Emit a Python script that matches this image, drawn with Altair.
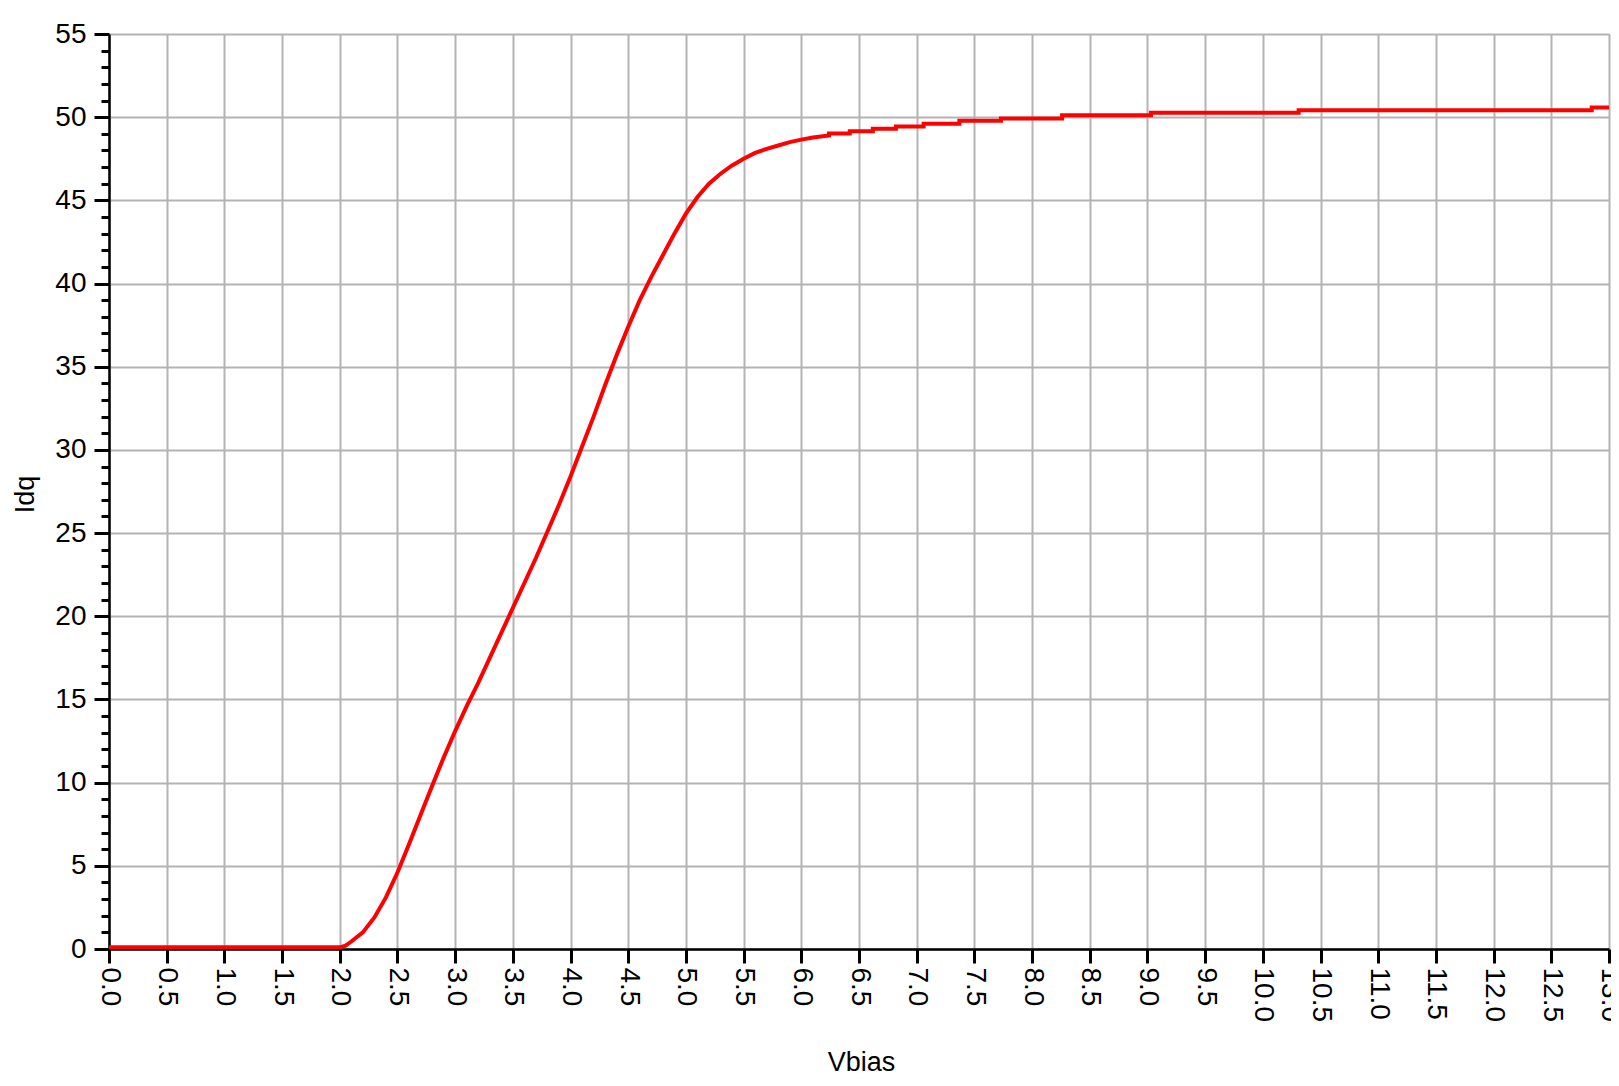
import altair as alt
import pandas as pd

vbias = [0.0, 2.0, 2.05, 2.1, 2.2, 2.3, 2.4, 2.5, 2.6, 2.7, 2.8, 2.9, 3.0, 3.1, 3.2, 3.3, 3.4,
         3.5, 3.6, 3.7, 3.8, 3.9, 4.0, 4.1, 4.2, 4.3, 4.4, 4.5, 4.6, 4.7, 4.8, 4.9, 5.0, 5.1,
         5.2, 5.3, 5.4, 5.5, 5.6, 5.7, 5.8, 5.9, 6.0, 6.1, 6.24, 6.24, 6.42, 6.42, 6.62, 6.62,
         6.82, 6.82, 7.06, 7.06, 7.37, 7.37, 7.73, 7.73, 8.26, 8.26, 9.03, 9.03, 10.31, 10.31,
         12.85, 12.85, 13.0]
idq = [0.1, 0.1, 0.2, 0.45, 1.0, 1.9, 3.1, 4.6, 6.3, 8.05, 9.8, 11.5, 13.1, 14.6, 16.0, 17.5, 19.0,
       20.5, 22.0, 23.5, 25.1, 26.7, 28.4, 30.2, 32.0, 33.9, 35.7, 37.4, 39.0, 40.4, 41.7, 43.0, 44.2, 45.2,
       46.0, 46.6, 47.1, 47.5, 47.85, 48.1, 48.3, 48.5, 48.65, 48.78, 48.9, 49.02, 49.02, 49.16, 49.16, 49.30,
       49.30, 49.44, 49.44, 49.60, 49.60, 49.78, 49.78, 49.92, 49.92, 50.12, 50.12, 50.26, 50.26, 50.42,
       50.42, 50.58, 50.58]

x_ticks = [0.0, 0.5, 1.0, 1.5, 2.0, 2.5, 3.0, 3.5, 4.0, 4.5, 5.0, 5.5, 6.0, 6.5, 7.0, 7.5, 8.0,
           8.5, 9.0, 9.5, 10.0, 10.5, 11.0, 11.5, 12.0, 12.5, 13.0]
y_ticks = [0, 1, 2, 3, 4, 5, 6, 7, 8, 9, 10, 11, 12, 13, 14, 15, 16, 17, 18, 19, 20, 21, 22, 23,
           24, 25, 26, 27, 28, 29, 30, 31, 32, 33, 34, 35, 36, 37, 38, 39, 40, 41, 42, 43, 44, 45,
           46, 47, 48, 49, 50, 51, 52, 53, 54, 55]

df = pd.DataFrame({"Vbias": vbias, "Idq": idq, "order": list(range(len(vbias)))})

FONT = "Liberation Sans"
major = "datum.value % 5 === 0"

chart = alt.Chart(df).mark_line(color="#ff0000", strokeWidth=4).encode(
    x=alt.X("Vbias:Q",
            scale=alt.Scale(domain=[0, 13], nice=False, zero=False),
            axis=alt.Axis(values=x_ticks, format=".1f", labelAngle=90, labelAlign="left",
                          labelBaseline="middle", labelFontSize=28, labelPadding=4,
                          tickSize=14, tickWidth=3, tickColor="black",
                          domainColor="black", domainWidth=2.5,
                          grid=True, gridColor="#b4b4b4", gridWidth=2,
                          labelOverlap=False, labelFlush=False,
                          title="Vbias", titleFontSize=27, titleFontWeight="normal",
                          titleX=752, titleY=121, titleAlign="center", titleBaseline="alphabetic",
                          labelColor="black", titleColor="black")),
    y=alt.Y("Idq:Q",
            scale=alt.Scale(domain=[0, 55], nice=False),
            axis=alt.Axis(values=y_ticks,
                          labelExpr="datum.value % 5 === 0 ? datum.label : ''",
                          labelFontSize=28, labelPadding=8,
                          tickSize={"condition": {"test": major, "value": 15}, "value": 8},
                          tickWidth=3, tickColor="black",
                          domainColor="black", domainWidth=2.5,
                          grid=True, gridColor="#b4b4b4", gridWidth=2,
                          gridOpacity={"condition": {"test": major, "value": 1}, "value": 0},
                          labelOverlap=False, labelFlush=False,
                          title="Idq", titleFontSize=27, titleFontWeight="normal",
                          titleAngle=-90, titleX=-76, titleY=460, titleAlign="center",
                          titleBaseline="alphabetic",
                          labelColor="black", titleColor="black")),
    order="order:Q",
).properties(
    width=1500, height=915,
    autosize=alt.AutoSizeParams(type="none"),
    padding={"left": 101, "top": 26, "right": 2, "bottom": 129},
).configure_view(
    stroke="black", strokeWidth=2.5
).configure(
    font=FONT, background="white"
)

chart.save("out.html", embed_options={"renderer": "svg", "actions": False})
